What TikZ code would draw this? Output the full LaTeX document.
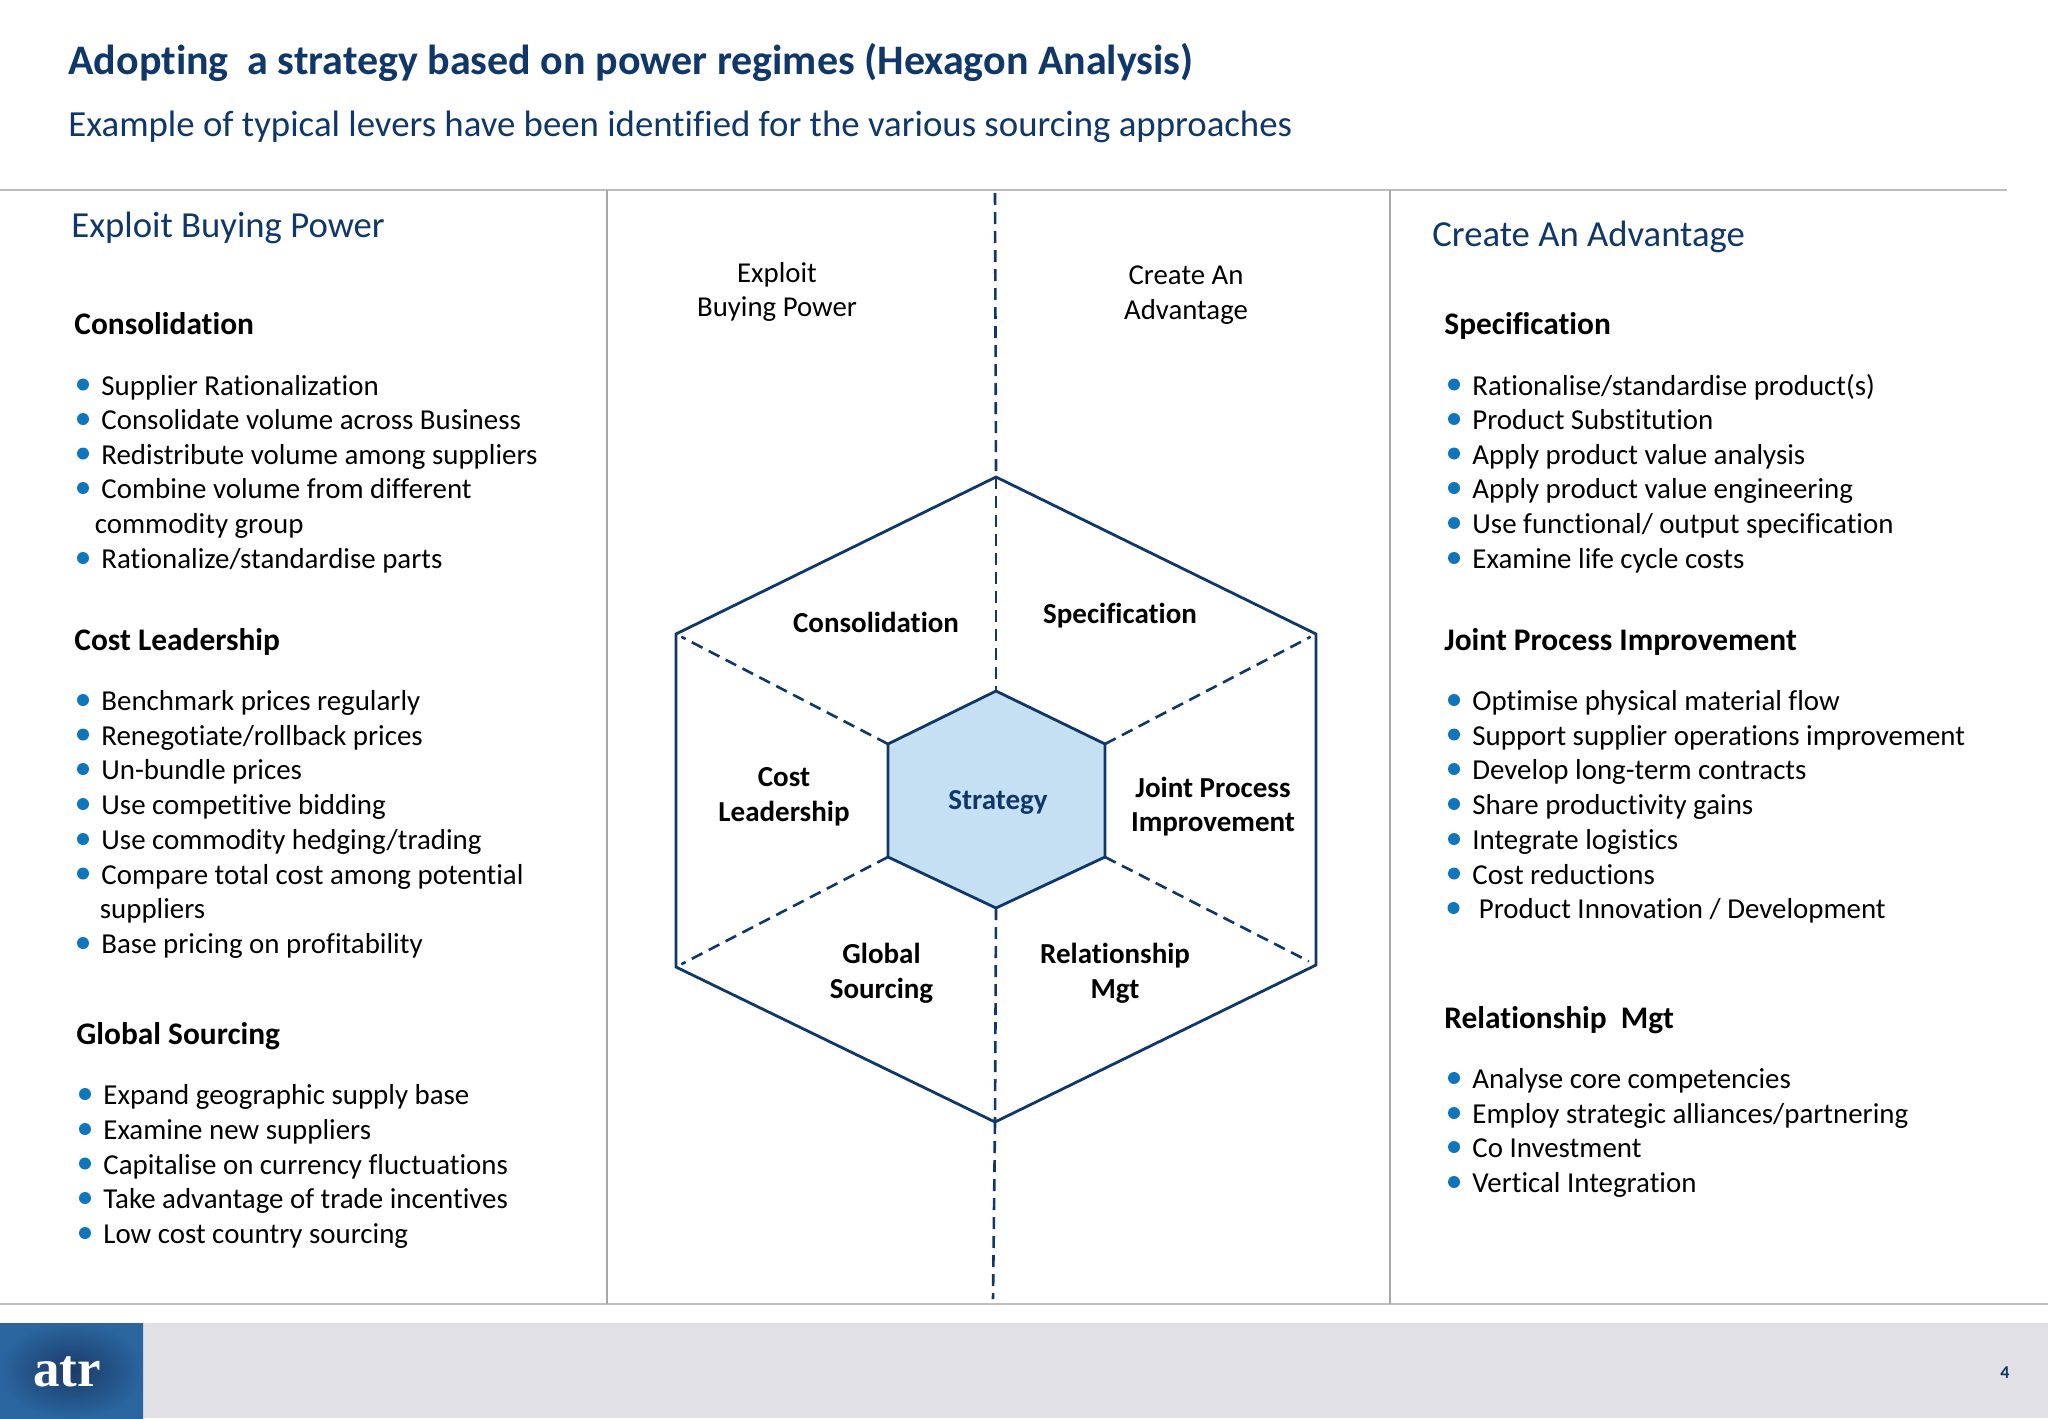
\documentclass[tikz,border=0pt]{standalone}
\usepackage{fontspec}
\setmainfont{Carlito}[Ligatures=CommonOff]
\newfontfamily\logofont{Liberation Serif}
\usepackage{xcolor}
\usetikzlibrary{positioning}
\definecolor{navy}{HTML}{0F3769}
\definecolor{dot}{HTML}{0F75BD}
\definecolor{rulegray}{HTML}{BEBEC2}
\definecolor{sidegray}{HTML}{A8A8AB}
\definecolor{hexfill}{HTML}{C5E0F2}
\definecolor{footgray}{HTML}{E1E0E4}
\definecolor{logoin}{HTML}{1B3A66}
\definecolor{logoout}{HTML}{2A659F}

\begin{document}
\begin{tikzpicture}[x=0.5pt, y=-0.5pt,
	title_node/.style={anchor=west, inner sep=0pt, text=navy, font=\fontsize{21}{25}\selectfont\bfseries},
	sub_node/.style={anchor=west, inner sep=0pt, text=navy, font=\fontsize{18.4}{22}\selectfont},
	side_node/.style={anchor=west, inner sep=0pt, text=navy, font=\fontsize{18.35}{22}\selectfont},
	head_node/.style={anchor=west, inner sep=0pt, text height=13pt, text depth=4pt, text=black, font=\fontsize{15.7}{19}\selectfont\bfseries},
	line_node/.style={anchor=west, inner sep=0pt, text height=13.8pt, text depth=3pt, text=black, font=\fontsize{14.45}{17}\selectfont},
	bullet_node/.style={circle, fill=dot, minimum size=6pt, inner sep=0pt, label distance=5.8pt},
	far_node/.style={bullet_node, label distance=9.3pt},
	item_node/.style={line_node, label={[bullet_node]left:{}}},
	mid_node/.style={align=center, inner sep=0pt, text=black, font=\fontsize{14.4}{17.35}\selectfont},
	seg_node/.style={align=center, inner sep=0pt, text=black, font=\fontsize{14.5}{17.35}\selectfont\bfseries},
	solid_line/.style={draw=navy, line width=1.4pt, line join=miter},
	dash_line/.style={draw=navy, line width=1.3pt, dash pattern=on 6pt off 3.5pt},
	rule_line/.style={draw=rulegray, line width=1pt},
	side_line/.style={draw=sidegray, line width=1pt}]
	\useasboundingbox (0, 0) rectangle (2048, 1418);
	
	% footer
	\fill[footgray] (0, 1323) rectangle (2048, 1418);
	\shade[inner color=logoin, outer color=logoout] (0, 1323) rectangle (143, 1418);
	\node[inner sep=0pt, text=white, font=\fontsize{26.5}{30}\selectfont\logofont\bfseries] (logo) at (67, 1372) {atr};
	\node[inner sep=0pt, text=navy, font=\fontsize{9}{10}\selectfont\bfseries] (page) at (2005, 1373) {4};
	
	% frame
	\coordinate (a1) at (0, 190);
	\coordinate (a2) at (2007, 190);
	\coordinate (b1) at (0, 1304);
	\coordinate (b2) at (2048, 1304);
	\coordinate (c1) at (607, 190);
	\coordinate (c2) at (607, 1304);
	\coordinate (d1) at (1390, 190);
	\coordinate (d2) at (1390, 1304);
	\draw[rule_line] (a1) -- (a2);
	\draw[rule_line] (b1) -- (b2);
	\draw[side_line] (c1) -- (c2);
	\draw[side_line] (d1) -- (d2);
	
	% headings
	\node[title_node] (title) at (68, 62.5) {Adopting\ \ a strategy based on power regimes (Hexagon Analysis)};
	\node[sub_node] (subtitle) at (68, 127) {Example of typical levers have been identified for the various sourcing approaches};
	\node[side_node] (exploit) at (71, 227.5) {Exploit Buying Power};
	\node[side_node] (create) at (1432, 237) {Create An Advantage};
	
	% left column
	\node[head_node] (h1) at (74, 325) {Consolidation};
	\node[item_node] (l1) at (101, 384.5) {Supplier Rationalization};
	\node[item_node] (l2) at (101, 419) {Consolidate volume across Business};
	\node[item_node] (l3) at (101, 453.5) {Redistribute volume among suppliers};
	\node[item_node] (l4) at (101, 488) {Combine volume from different};
	\node[line_node] (l5) at (94.5, 523) {commodity group};
	\node[item_node] (l6) at (101, 558) {Rationalize/standardise parts};
	
	\node[head_node] (h2) at (74, 641) {Cost Leadership};
	\node[item_node] (l7) at (101, 700) {Benchmark prices regularly};
	\node[item_node] (l8) at (101, 734.5) {Renegotiate/rollback prices};
	\node[item_node] (l9) at (101, 769) {Un-bundle prices};
	\node[item_node] (l10) at (101, 804) {Use competitive bidding};
	\node[item_node] (l11) at (101, 839) {Use commodity hedging/trading};
	\node[item_node] (l12) at (101, 873.5) {Compare total cost among potential};
	\node[line_node] (l13) at (99.5, 908) {suppliers};
	\node[item_node] (l14) at (101, 943) {Base pricing on profitability};
	
	\node[head_node] (h3) at (76, 1035) {Global Sourcing};
	\node[item_node] (l15) at (103, 1094) {Expand geographic supply base};
	\node[item_node] (l16) at (103, 1129) {Examine new suppliers};
	\node[item_node] (l17) at (103, 1163.5) {Capitalise on currency fluctuations};
	\node[item_node] (l18) at (103, 1198) {Take advantage of trade incentives};
	\node[item_node] (l19) at (103, 1233) {Low cost country sourcing};
	
	% right column
	\node[head_node] (h4) at (1444, 325) {Specification};
	\node[item_node] (r1) at (1472, 384.5) {Rationalise/standardise product(s)};
	\node[item_node] (r2) at (1472, 419) {Product Substitution};
	\node[item_node] (r3) at (1472, 453.5) {Apply product value analysis};
	\node[item_node] (r4) at (1472, 488) {Apply product value engineering};
	\node[item_node] (r5) at (1472, 523) {Use functional/ output specification};
	\node[item_node] (r6) at (1472, 558) {Examine life cycle costs};
	
	\node[head_node] (h5) at (1444, 641) {Joint Process Improvement};
	\node[item_node] (r7) at (1472, 700) {Optimise physical material flow};
	\node[item_node] (r8) at (1472, 734.5) {Support supplier operations improvement};
	\node[item_node] (r9) at (1472, 769) {Develop long-term contracts};
	\node[item_node] (r10) at (1472, 804) {Share productivity gains};
	\node[item_node] (r11) at (1472, 839) {Integrate logistics};
	\node[item_node] (r12) at (1472, 873.5) {Cost reductions};
	\node[line_node, label={[far_node]left:{}}] (r13) at (1478.5, 908) {Product Innovation / Development};
	
	\node[head_node] (h6) at (1444, 1019) {Relationship\ \ Mgt};
	\node[item_node] (r14) at (1472, 1078) {Analyse core competencies};
	\node[item_node] (r15) at (1472, 1113) {Employ strategic alliances/partnering};
	\node[item_node] (r16) at (1472, 1147) {Co Investment};
	\node[item_node] (r17) at (1472, 1182) {Vertical Integration};
	
	% hexagons
	\coordinate (o1) at (996, 477);
	\coordinate (o2) at (1316, 634);
	\coordinate (o3) at (1316, 965);
	\coordinate (o4) at (995, 1122);
	\coordinate (o5) at (676, 967);
	\coordinate (o6) at (676, 634);
	\coordinate (i1) at (996, 691);
	\coordinate (i2) at (1105, 744);
	\coordinate (i3) at (1105, 857);
	\coordinate (i4) at (996, 908);
	\coordinate (i5) at (888, 857);
	\coordinate (i6) at (888, 744);
	\coordinate (top) at (995, 193);
	\coordinate (bottom) at (993, 1299);
	
	\path[fill=hexfill, solid_line] (i1) -- (i2) -- (i3) -- (i4) -- (i5) -- (i6) -- cycle;
	\draw[solid_line] (o1) -- (o2) -- (o3) -- (o4) -- (o5) -- (o6) -- cycle;
	
	\draw[dash_line] (top) -- (o1);
	\draw[dash_line] (o1) -- (i1);
	\draw[dash_line, shorten >=3pt] (i2) -- (o2);
	\draw[dash_line, shorten >=4pt] (i3) -- (o3);
	\draw[dash_line] (i4) -- (o4);
	\draw[dash_line] (o4) -- (bottom);
	\draw[dash_line, shorten >=3pt] (i5) -- (o5);
	\draw[dash_line, shorten >=3pt] (i6) -- (o6);
	
	\node[mid_node] (m1) at (777, 292) {Exploit\\Buying Power};
	\node[mid_node] (m2) at (1186, 295) {Create An\\Advantage};
	\node[seg_node] (s1) at (876, 622.5) {Consolidation};
	\node[seg_node] (s2) at (1120, 616) {Specification};
	\node[seg_node] (s3) at (784, 797) {Cost\\Leadership};
	\node[seg_node] (s4) at (1213, 806.5) {Joint Process\\Improvement};
	\node[seg_node] (s5) at (881.5, 973.5) {Global\\Sourcing};
	\node[seg_node] (s6) at (1115, 973.5) {Relationship\\Mgt};
	\node[seg_node, text=navy] (strategy) at (998, 802) {Strategy};
\end{tikzpicture}
\end{document}
